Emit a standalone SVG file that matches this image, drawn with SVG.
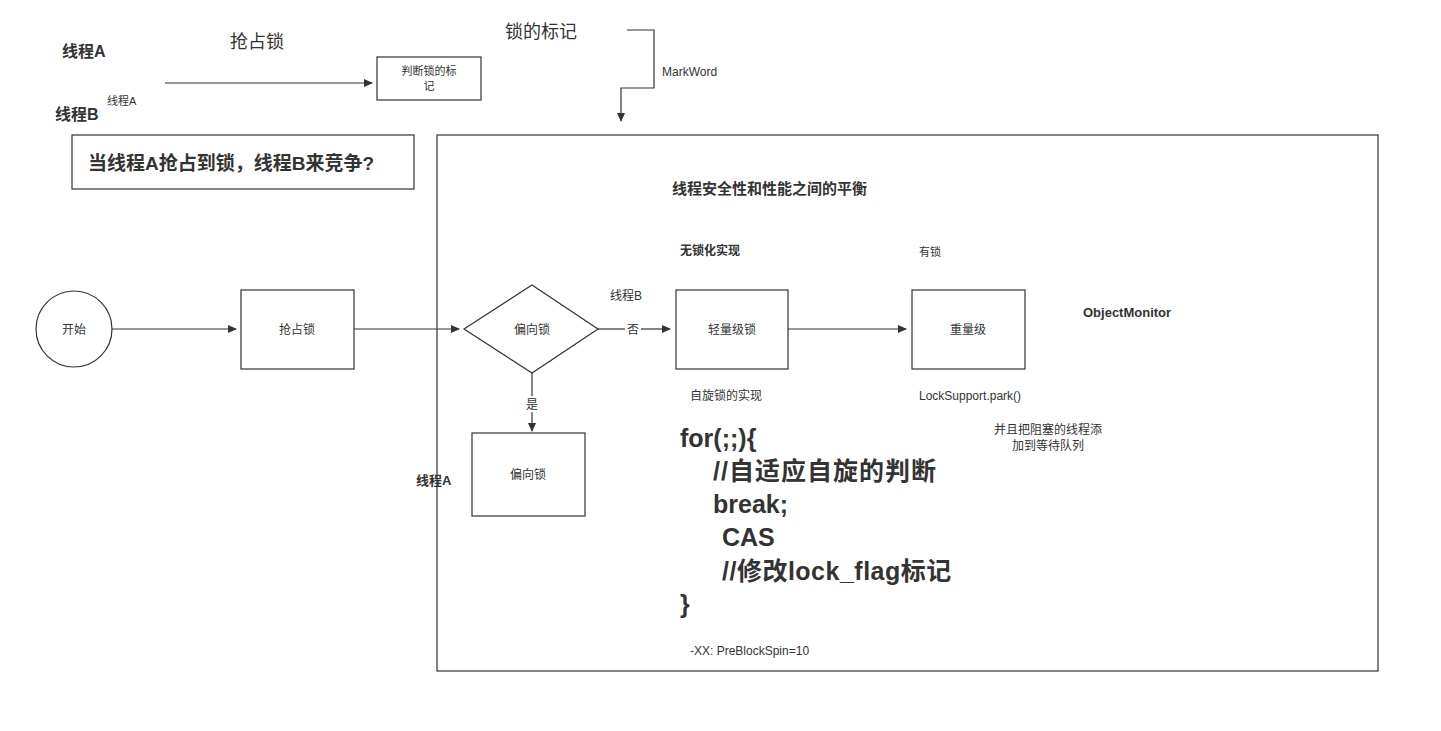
<svg xmlns="http://www.w3.org/2000/svg" width="1441" height="731" viewBox="0 0 1441 731">
<style>
text{font-family:"Liberation Sans","Noto Sans CJK SC",sans-serif;fill:#333}
.b{font-weight:bold}
.n{fill:#fff;stroke:#333;stroke-width:1.2}
.c{fill:none;stroke:#333;stroke-width:1.2}
</style>
<defs><marker id="a" markerWidth="10" markerHeight="10" refX="8" refY="5" orient="auto" markerUnits="userSpaceOnUse"><path d="M0,1 L9,5 L0,9 z" fill="#333"/></marker></defs>
<rect width="1441" height="731" fill="#fff"/>
<g id="container"><rect class="n" x="437" y="135" width="941" height="536"/></g>
<g id="connectors">
<line class="c" x1="165" y1="83" x2="372" y2="83" marker-end="url(#a)"/>
<path class="c" stroke="#999" d="M627,30 H654 V88 H621 V121" marker-end="url(#a)"/>
<line class="c" x1="112" y1="329" x2="236" y2="329" marker-end="url(#a)"/>
<line class="c" x1="354" y1="329" x2="459" y2="329" marker-end="url(#a)"/>
<line class="c" x1="598" y1="329" x2="625" y2="329"/>
<line class="c" x1="641" y1="329" x2="670" y2="329" marker-end="url(#a)"/>
<line class="c" x1="532" y1="373" x2="532" y2="396"/>
<line class="c" x1="532" y1="412" x2="532" y2="431" marker-end="url(#a)"/>
<line class="c" x1="788" y1="329" x2="906" y2="329" marker-end="url(#a)"/>
</g>
<g id="n-start"><circle class="n" cx="74" cy="329" r="38"/><text x="74" y="334" font-size="12" text-anchor="middle">开始</text></g>
<g id="n-grab"><rect class="n" x="241" y="290" width="113" height="79"/><text x="297" y="334" font-size="12" text-anchor="middle">抢占锁</text></g>
<g id="n-dia"><polygon class="n" points="532,285 598,329 532,373 464,329"/><text x="532" y="334" font-size="12" text-anchor="middle">偏向锁</text></g>
<g id="n-bias"><rect class="n" x="472" y="433" width="113" height="83"/><text x="528" y="479" font-size="12" text-anchor="middle">偏向锁</text></g>
<g id="n-light"><rect class="n" x="676" y="290" width="112" height="79"/><text x="732" y="334" font-size="12" text-anchor="middle">轻量级锁</text></g>
<g id="n-heavy"><rect class="n" x="912" y="290" width="113" height="79"/><text x="968" y="334" font-size="12" text-anchor="middle">重量级</text></g>
<g id="n-judge"><rect class="n" x="377" y="57" width="104" height="43"/><text x="429" y="75" font-size="11" text-anchor="middle">判断锁的标</text><text x="429" y="90" font-size="11" text-anchor="middle">记</text></g>
<g id="n-q"><rect class="n" x="72" y="135" width="342" height="54"/><text x="88" y="170" font-size="19" class="b">当线程A抢占到锁，线程B来竞争?</text></g>
<g id="labels">
<text x="62" y="57" font-size="16" class="b">线程A</text>
<text x="55" y="120" font-size="16" class="b">线程B</text>
<text x="107" y="105" font-size="11">线程A</text>
<text x="230" y="48" font-size="18">抢占锁</text>
<text x="505" y="38" font-size="18">锁的标记</text>
<text x="662" y="76" font-size="12">MarkWord</text>
<text x="672" y="194" font-size="15" class="b">线程安全性和性能之间的平衡</text>
<text x="680" y="255" font-size="12" class="b">无锁化实现</text>
<text x="919" y="256" font-size="11">有锁</text>
<text x="1083" y="317" font-size="13" class="b">ObjectMonitor</text>
<text x="610" y="300" font-size="12">线程B</text>
<text x="633" y="334" font-size="12" text-anchor="middle">否</text>
<text x="532" y="409" font-size="12" text-anchor="middle">是</text>
<text x="416" y="485" font-size="13" class="b">线程A</text>
<text x="690" y="400" font-size="12">自旋锁的实现</text>
<text x="919" y="400" font-size="12">LockSupport.park()</text>
<text x="1048" y="434" font-size="12" text-anchor="middle">并且把阻塞的线程添</text>
<text x="1048" y="450" font-size="12" text-anchor="middle">加到等待队列</text>
<g font-size="25" class="b">
<text x="680" y="447">for(;;){</text>
<text x="713" y="480" letter-spacing="1">//自适应自旋的判断</text>
<text x="713" y="513">break;</text>
<text x="722" y="546">CAS</text>
<text x="722" y="580" letter-spacing="0.5">//修改lock_flag标记</text>
<text x="680" y="613">}</text>
</g>
<text x="690" y="655" font-size="12">-XX: PreBlockSpin=10</text>
</g>
</svg>
